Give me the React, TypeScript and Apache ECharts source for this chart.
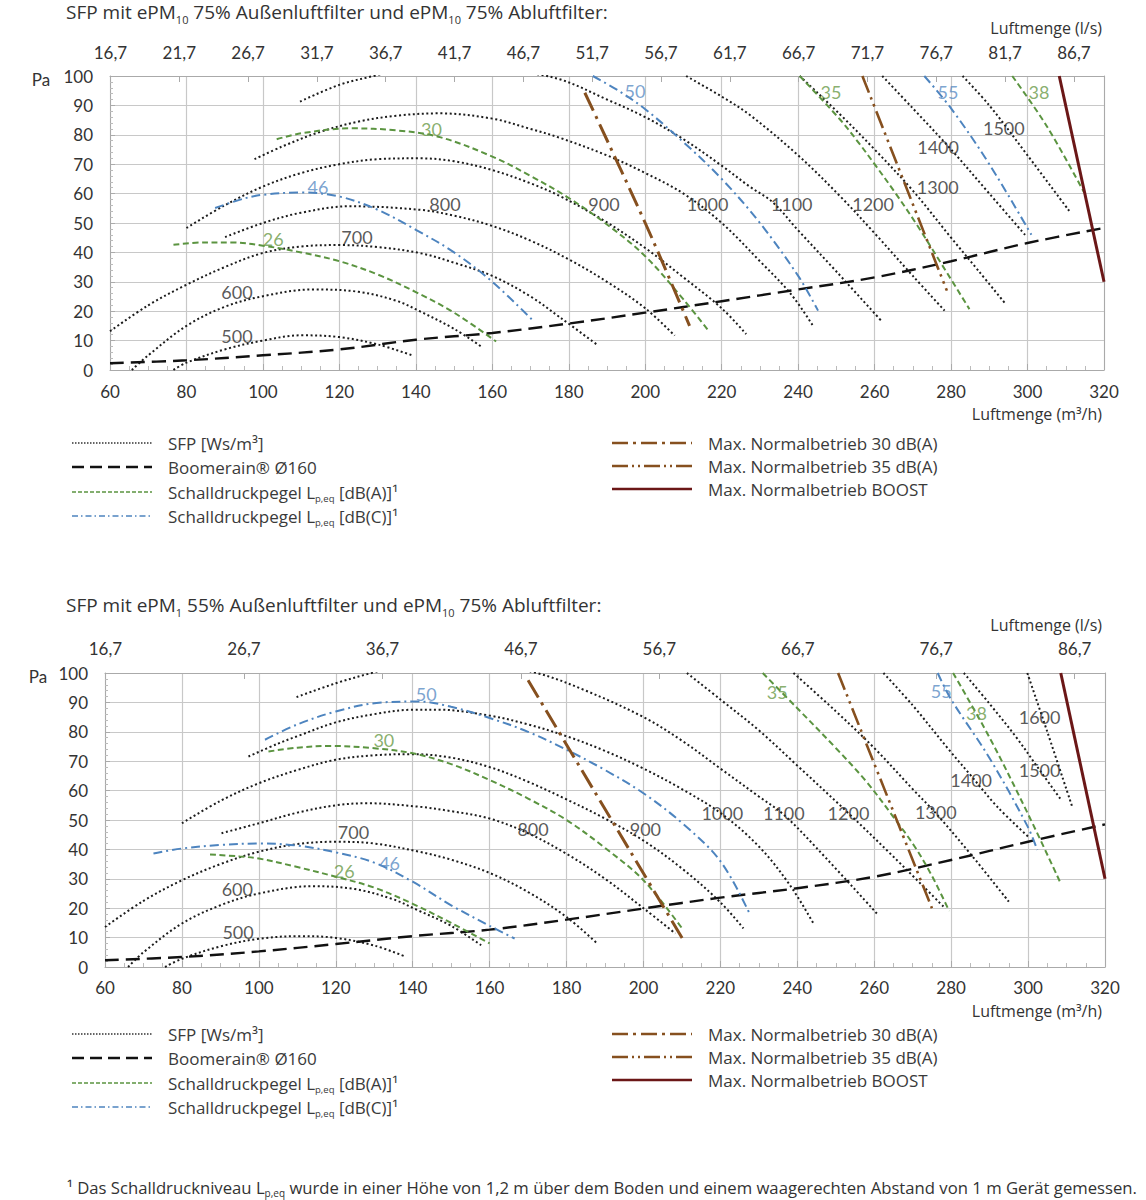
import React, { useEffect, useRef } from "react";
import * as echarts from "echarts";

const FONT = "Lato, 'Open Sans', 'DejaVu Sans', sans-serif";
const FONT2 = "'Open Sans', Lato, 'DejaVu Sans', sans-serif";
const TEXT = "#333333";

// ---------- tick labels (top axis, l/s) ----------
const lsTicks1 = [16.7, 21.7, 26.7, 31.7, 36.7, 41.7, 46.7, 51.7, 56.7, 61.7, 66.7, 71.7, 76.7, 81.7, 86.7];
const lsTicks2 = [16.7, 26.7, 36.7, 46.7, 56.7, 66.7, 76.7, 86.7];

// ---------- chart 1: ePM10 75% / ePM10 75% ----------
const c1Sfp500 = [[76.6, 0], [80, 2.5], [90, 7], [100, 10], [110, 11.8], [120, 11.2], [130, 8.7], [139, 5]];
const c1Sfp600 = [[65.7, 0], [70, 5], [80, 15], [90, 21.5], [100, 25.1], [113, 27.4], [125, 26.6], [135, 23.5], [141, 20], [150, 14], [157.2, 7.9]];
const c1Sfp700 = [[60, 13.2], [70, 22], [80, 29], [90, 35], [100, 39.8], [110, 42], [120, 42.5], [130, 41.8], [141, 39.8], [150, 36.5], [160, 32], [170, 25], [177.6, 18], [187.2, 8.8]];
const c1Sfp800 = [[90.1, 45.2], [100, 50], [110, 53.5], [122.8, 55.7], [141, 54.5], [150, 52.5], [160, 49], [170, 44], [180, 37.6], [190, 30], [200, 21], [207.7, 11.7]];
const c1Sfp900 = [[80, 48.3], [90, 56], [100, 62.4], [110, 67], [120, 70], [130, 71.7], [141, 72], [150, 71], [160, 68], [170, 63.5], [177.6, 59.2], [189, 51], [200, 41.5], [210, 31.5], [220, 21], [226.4, 12.2]];
const c1Sfp1000 = [[97.8, 71.7], [105, 76], [115, 81], [125, 84.5], [135, 86.5], [146, 87.3], [160, 85.5], [170, 82], [177.6, 79], [190, 73], [200, 67], [210, 60], [220, 50], [230, 37], [238, 26], [243.9, 15]];
const c1Sfp1100 = [[109.7, 91.3], [120, 97], [128.9, 100], [140, 103.5], [155, 104], [165, 102], [177.6, 98.9], [190, 92], [200, 86], [210, 78.5], [220, 69.5], [227.3, 62.4], [233.4, 57], [240, 47.5], [250, 33.5], [261.7, 16.8]];
const c1Sfp1200 = [[210.7, 100], [220, 93], [227.3, 86.8], [240, 73], [250.9, 59.2], [260, 46.5], [270, 32], [278.3, 20.2]];
const c1Sfp1300 = [[240.4, 100], [250.9, 87], [260, 75], [270, 61], [280, 45], [287, 34], [294.3, 22.4]];
const c1Sfp1400 = [[262, 100], [270, 89], [280, 75], [290, 60], [299.6, 45.6]];
const c1Sfp1500 = [[283, 100], [290, 90], [300, 73], [310.9, 54.1]];
const c1Sfp = [c1Sfp500, c1Sfp600, c1Sfp700, c1Sfp800, c1Sfp900, c1Sfp1000, c1Sfp1100, c1Sfp1200, c1Sfp1300, c1Sfp1400, c1Sfp1500];

const c1DbA26 = [[76.6, 42.6], [85, 43.4], [92, 43.4], [100, 42.3], [110, 40], [120, 37], [130, 32.5], [140, 26.5], [150, 19.5], [161, 9.7]];
const c1DbA30 = [[103.6, 78.5], [110, 80.5], [122.8, 82.2], [135, 81.5], [146.3, 79.2], [160, 72.6], [170, 66], [179.4, 59], [190, 49.5], [200, 38.7], [210, 24], [216.4, 13.6]];
const c1DbA35 = [[240.4, 100], [250.9, 85.3], [256, 77], [260, 70], [265, 61], [271, 49.5], [278, 35], [284.8, 20.7]];
const c1DbA38 = [[296, 100], [305, 83], [314.8, 60.4]];
const c1DbA = [c1DbA26, c1DbA30, c1DbA35, c1DbA38];

const c1DbC46 = [[87.5, 55.1], [95, 58.3], [100, 59.6], [110, 60.4], [120, 59], [130, 54.5], [140, 47.7], [150, 40], [160, 30], [170.5, 17]];
const c1DbC50 = [[186.3, 100], [193, 95], [200, 88.7], [210, 77.5], [220, 65], [230, 50], [240, 32], [245.2, 20.2]];
const c1DbC55 = [[273, 100], [280, 89], [290, 70], [301, 46]];
const c1DbC = [c1DbC46, c1DbC50, c1DbC55];

const c1Max30 = [[184.2, 94.3], [200, 50], [211.6, 15]];
const c1Max35 = [[256.8, 100], [278.9, 27]];
const c1Boost = [[308.3, 100], [320, 30]];
const c1Boomerain = [[60, 2.3], [80, 3.3], [100, 5], [120, 7], [140, 10.3], [160, 12.6], [180, 15.8], [200, 19.5], [220, 23.4], [240, 27.4], [260, 31.5], [280, 37], [300, 43.2], [320, 48.3]];

const c1SfpLabels = [[93.2, 11.7, "500"], [93.2, 26.4, "600"], [124.6, 45.1, "700"], [147.6, 56.6, "800"], [189.2, 56.6, "900"], [216.3, 56.6, "1000"], [238.3, 56.6, "1100"], [259.6, 56.6, "1200"], [276.5, 62.3, "1300"], [276.6, 75.8, "1400"], [293.8, 82.2, "1500"]];
const c1DbALabels = [[102.7, 44.5, "26"], [144.1, 82, "30"], [248.6, 94.5, "35"], [303, 94.5, "38"]];
const c1DbCLabels = [[114.4, 62.2, "46"], [197.3, 95, "50"], [279.2, 94.5, "55"]];

// ---------- chart 2: ePM1 55% / ePM10 75% ----------
const c2Sfp500 = [[75.6, 0], [80, 2.8], [90, 7], [100, 9.6], [110.7, 10.5], [120, 9.9], [130, 7.3], [138, 3.6]];
const c2Sfp600 = [[66, 0], [70, 5], [80, 14.8], [90, 21], [100, 25], [114, 27.5], [125, 26.5], [135, 23], [141, 19.5], [150, 14], [157.8, 7.4]];
const c2Sfp700 = [[60, 13.6], [70, 22.5], [80, 29.5], [90, 35], [100, 39.2], [110, 41.8], [120, 42.6], [130, 42], [141.7, 39.2], [150, 36.5], [160, 32], [170, 25.5], [180, 17], [187.8, 8.2]];
const c2Sfp800 = [[90.3, 45.5], [100, 48.9], [110, 52.5], [120, 55], [128, 55.7], [141.7, 54.5], [150, 53], [160, 50.5], [170, 45.5], [180, 38.5], [190, 30], [200, 20], [208.3, 11.4]];
const c2Sfp900 = [[80, 48.9], [90, 56.5], [100, 62.5], [110, 67], [120, 70.5], [130, 72], [140, 72.4], [150, 71.2], [160, 68], [170, 63], [180, 57], [190, 50.5], [200, 43], [210, 33.5], [220, 22], [226, 13.1]];
const c2Sfp1000 = [[97.3, 71.6], [105, 76], [110, 78.5], [120, 83.2], [130, 86], [140, 87.5], [147, 87.5], [160, 85.5], [170, 82.5], [180, 78.5], [190, 73.5], [200, 67.5], [210, 60.5], [220, 52.4], [230, 41], [238, 28], [244.2, 14.8]];
const c2Sfp1100 = [[109.8, 91.8], [120, 96.5], [129.3, 100], [140, 103.5], [155, 104], [172.2, 100], [185, 94], [200, 85], [210, 77], [220, 67.5], [230, 58], [236.3, 52], [245, 40.5], [261.1, 17.6]];
const c2Sfp1200 = [[211.3, 100], [220, 91], [230, 80.5], [240, 68.5], [253.3, 52.3], [265, 37.5], [278.5, 19.9]];
const c2Sfp1300 = [[239, 100], [250, 87], [260, 74.5], [270, 60.5], [276, 52.3], [285, 38.5], [295, 22.2]];
const c2Sfp1400 = [[262.4, 100], [270, 89], [280, 73], [285.2, 65], [292, 54.5], [300.3, 44]];
const c2Sfp1500 = [[283.3, 100], [290, 89.5], [297, 78], [303, 67], [308.5, 57]];
const c2Sfp1600 = [[299.8, 100], [305, 80], [311.6, 54]];
const c2Sfp = [c2Sfp500, c2Sfp600, c2Sfp700, c2Sfp800, c2Sfp900, c2Sfp1000, c2Sfp1100, c2Sfp1200, c2Sfp1300, c2Sfp1400, c2Sfp1500, c2Sfp1600];

const c2DbA26 = [[87.3, 38.3], [95, 37.6], [100, 36.9], [110, 34], [120, 30.7], [130, 27], [140, 21.5], [150, 15], [160, 8]];
const c2DbA30 = [[102.5, 73.3], [110, 74.6], [118.5, 75.2], [130, 74.4], [140, 72.7], [150, 69], [160, 63.6], [170, 57.3], [180, 50], [190, 40.5], [200, 29.5], [210.4, 12.5]];
const c2DbA35 = [[231, 100], [240, 88], [250, 74.5], [258, 63], [265, 51], [270.5, 41], [275, 31], [279.5, 19]];
const c2DbA38 = [[280.5, 100], [290, 78], [300, 52], [308.5, 28.4]];
const c2DbA = [c2DbA26, c2DbA30, c2DbA35, c2DbA38];

const c2DbC46 = [[72.6, 38.6], [80, 40.3], [90, 41.5], [100, 42], [110, 41.3], [120, 39], [130, 35.5], [140, 29], [150, 21], [160, 14], [166.5, 9.7]];
const c2DbC50 = [[101.6, 77.3], [110, 82.5], [120, 86.9], [130.6, 89.8], [141.7, 90.3], [150, 88.5], [160, 84.7], [170, 80], [180, 73.9], [190, 67], [200, 59.1], [210, 49], [220, 36], [227.8, 17.6]];
const c2DbC55 = [[276.5, 100], [280, 91], [290, 71], [299.8, 48], [302.4, 39.8]];
const c2DbC = [c2DbC46, c2DbC50, c2DbC55];

const c2Max30 = [[170, 97.5], [210.3, 9.3]];
const c2Max35 = [[250.6, 100], [275, 20]];
const c2Boost = [[308.5, 100], [320, 30]];
const c2Boomerain = [[60, 2.3], [80, 3.4], [100, 5.3], [120, 7.8], [140, 10.5], [160, 12.7], [180, 16.1], [200, 19.9], [220, 23.6], [240, 26.8], [260, 30.7], [280, 36.4], [300, 42.6], [320, 48.5]];

const c2SfpLabels = [[94.6, 12, "500"], [94.4, 26.6, "600"], [124.6, 45.8, "700"], [171.3, 47.1, "800"], [200.5, 47, "900"], [220.5, 52.4, "1000"], [236.5, 52.4, "1100"], [253.3, 52.4, "1200"], [276, 52.6, "1300"], [285.2, 63.6, "1400"], [303, 67, "1500"], [303, 85, "1600"]];
const c2DbALabels = [[122.2, 32.8, "26"], [132.5, 77.2, "30"], [234.8, 93.5, "35"], [286.6, 86.4, "38"]];
const c2DbCLabels = [[134, 35.5, "46"], [143.5, 92.8, "50"], [277.4, 93.8, "55"]];

// ---------- styles ----------
const GREEN = "#5b9440";
const BLUE = "#4d84bf";
const BROWN = "#86501f";
const SFP_STYLE = { color: "#1c1c1c", width: 2, type: [2, 2.6], cap: "butt" };
const BOOM_STYLE = { color: "#111111", width: 2.4, type: [14, 7] };
const DBA_STYLE = { color: GREEN, width: 2, type: [6, 3.5] };
const DBC_STYLE = { color: BLUE, width: 2, type: [9, 4, 2, 4] };
const MAX30_STYLE = { color: BROWN, width: 3, type: [20, 6, 3, 6] };
const MAX35_STYLE = { color: BROWN, width: 2.6, type: [18, 5, 2.5, 5, 2.5, 5] };
const BOOST_STYLE = { color: "#6b1717", width: 3, type: "solid" };

const GRIDS = [
  { left: 110, top: 76, width: 994, height: 294 },
  { left: 105, top: 673, width: 1000, height: 294 },
];

function lsFormat(v: number) {
  return (v / 3.6).toFixed(1).replace(".", ",");
}

function axesFor(gi: number, lsTicks: number[], bottomMargin: number, topMargin: number) {
  const custom = lsTicks.map((v) => v * 3.6);
  const bottom = {
    gridIndex: gi, type: "value", min: 60, max: 320, interval: 20, position: "bottom",
    axisLine: { show: true, onZero: false, lineStyle: { color: "#aaaaaa", width: 1 } },
    axisTick: { show: true, inside: true, length: 6, lineStyle: { color: "#aaaaaa" } },
    minorTick: { show: true, splitNumber: 4, length: 4, lineStyle: { color: "#bbbbbb" } },
    axisLabel: { fontSize: 17, color: TEXT, margin: bottomMargin, fontFamily: FONT },
    splitLine: { show: true, lineStyle: { color: "#c8c8c8", width: 1.2 } },
  };
  const top = {
    gridIndex: gi, type: "value", min: 60, max: 320, position: "top",
    axisLine: { show: true, onZero: false, lineStyle: { color: "#aaaaaa", width: 1 } },
    axisTick: { show: true, inside: true, length: 6, customValues: custom, lineStyle: { color: "#aaaaaa" } },
    axisLabel: { customValues: custom, formatter: lsFormat, fontSize: 17, color: TEXT, margin: topMargin, fontFamily: FONT },
    splitLine: { show: false },
  };
  const left = {
    gridIndex: gi, type: "value", min: 0, max: 100, interval: 10, position: "left",
    axisLine: { show: true, onZero: false, lineStyle: { color: "#aaaaaa", width: 1 } },
    axisTick: { show: true, inside: true, length: 5, lineStyle: { color: "#aaaaaa" } },
    minorTick: { show: true, splitNumber: 5, length: 3, lineStyle: { color: "#bbbbbb" } },
    axisLabel: { fontSize: 17, color: TEXT, margin: 17, fontFamily: FONT },
    splitLine: { show: true, lineStyle: { color: "#c8c8c8", width: 1.2 } },
  };
  const right = {
    gridIndex: gi, type: "value", min: 0, max: 100, position: "right",
    axisLine: { show: true, onZero: false, lineStyle: { color: "#aaaaaa", width: 1 } },
    axisTick: { show: false }, axisLabel: { show: false }, splitLine: { show: false },
  };
  return { x: [bottom, top], y: [left, right] };
}

function curve(data: number[][], gi: number, style: any, z = 3) {
  return {
    type: "line", xAxisIndex: gi * 2, yAxisIndex: gi * 2, data,
    symbol: "none", showSymbol: false, smooth: 0.35, silent: true, clip: true,
    lineStyle: style, z, emphasis: { disabled: true },
  };
}

function labels(data: any[], gi: number, color: string) {
  return {
    type: "scatter", xAxisIndex: gi * 2, yAxisIndex: gi * 2, data,
    symbolSize: 1, itemStyle: { color: "rgba(0,0,0,0)" }, silent: true, z: 10,
    label: {
      show: true, position: "inside", formatter: (p: any) => p.data[2],
      color, fontSize: 18, fontFamily: FONT,
    },
    emphasis: { disabled: true },
  };
}

function chartSeries(gi: number, sfp: number[][][], dbA: number[][][], dbC: number[][][],
  max30: number[][], max35: number[][], boost: number[][], boom: number[][],
  sfpL: any[], dbAL: any[], dbCL: any[]) {
  const s: any[] = [];
  sfp.forEach((d) => s.push(curve(d, gi, SFP_STYLE, 3)));
  s.push(curve(boom, gi, BOOM_STYLE, 4));
  dbA.forEach((d) => s.push(curve(d, gi, DBA_STYLE, 5)));
  dbC.forEach((d) => s.push(curve(d, gi, DBC_STYLE, 5)));
  s.push(curve(max30, gi, MAX30_STYLE, 6));
  s.push(curve(max35, gi, MAX35_STYLE, 6));
  s.push(curve(boost, gi, BOOST_STYLE, 6));
  s.push(labels(sfpL, gi, "#2e2e2e"));
  s.push(labels(dbAL, gi, "#6a9a48"));
  s.push(labels(dbCL, gi, "#5a8cc4"));
  return s;
}

const LEG_TXT = "#3a3a3a";
const LEG_SIZE = 17;
const richLegend = {
  n: { fontSize: LEG_SIZE, fontFamily: FONT2, fill: LEG_TXT },
  s: { fontSize: 9.5, fontFamily: FONT2, fill: LEG_TXT, padding: [13, 0, 0, 0] },
};

function legendElems(dy: number) {
  const L = [443, 467, 492, 516].map((v) => v + dy);
  const R = [443, 466, 489].map((v) => v + dy);
  const line = (x1: number, x2: number, y: number, stroke: string, lw: number, dash: number[] | null) => ({
    type: "line", silent: true,
    shape: { x1, y1: y, x2, y2: y },
    style: { stroke, lineWidth: lw, lineDash: dash || undefined },
  });
  const txt = (x: number, y: number, text: string) => ({
    type: "text", x, y, silent: true,
    style: { text, rich: richLegend, fill: LEG_TXT, fontSize: LEG_SIZE, fontFamily: FONT2, align: "left", verticalAlign: "middle" },
  });
  return [
    line(72, 152, L[0], "#333333", 1.5, [1.5, 1.5]),
    txt(168, L[0], "{n|SFP [Ws/m³]}"),
    line(72, 152, L[1], "#111111", 2.5, [12, 6]),
    txt(168, L[1], "{n|Boomerain® Ø160}"),
    line(72, 152, L[2], GREEN, 1.5, [4, 2]),
    txt(168, L[2], "{n|Schalldruckpegel L}{s|p,eq}{n| [dB(A)]¹}"),
    line(72, 152, L[3], BLUE, 1.5, [6, 3, 1.5, 3]),
    txt(168, L[3], "{n|Schalldruckpegel L}{s|p,eq}{n| [dB(C)]¹}"),
    line(612, 692, R[0], BROWN, 2.5, [16, 5, 3, 5]),
    txt(708, R[0], "{n|Max. Normalbetrieb 30 dB(A)}"),
    line(612, 692, R[1], BROWN, 2.5, [16, 4, 2, 4, 2, 4]),
    txt(708, R[1], "{n|Max. Normalbetrieb 35 dB(A)}"),
    line(612, 692, R[2], "#6b1717", 2.5, null),
    txt(708, R[2], "{n|Max. Normalbetrieb BOOST}"),
  ];
}

const richTitle = {
  n: { fontSize: 19, fontFamily: FONT2, fill: TEXT },
  s: { fontSize: 11, fontFamily: FONT2, fill: TEXT, padding: [14, 0, 0, 0] },
};

function simpleText(x: number, y: number, text: string, align: string, size = 16, family = FONT2) {
  return {
    type: "text", x, y, silent: true,
    style: { text, fill: TEXT, fontSize: size, fontFamily: family, align, verticalAlign: "middle" },
  };
}

function buildOption() {
  const a1 = axesFor(0, lsTicks1, 13, 15);
  const a2 = axesFor(1, lsTicks2, 12, 16);
  const graphic: any[] = [
    {
      type: "text", x: 66, y: 12, silent: true,
      style: { text: "{n|SFP mit ePM}{s|10}{n| 75% Außenluftfilter und ePM}{s|10}{n| 75% Abluftfilter:}", rich: richTitle, fontSize: 19, fontFamily: FONT2, fill: TEXT, align: "left", verticalAlign: "middle" },
    },
    {
      type: "text", x: 66, y: 605, silent: true,
      style: { text: "{n|SFP mit ePM}{s|1}{n| 55% Außenluftfilter und ePM}{s|10}{n| 75% Abluftfilter:}", rich: richTitle, fontSize: 19, fontFamily: FONT2, fill: TEXT, align: "left", verticalAlign: "middle" },
    },
    simpleText(1102, 28, "Luftmenge (l/s)", "right"),
    simpleText(1102, 414, "Luftmenge (m³/h)", "right"),
    simpleText(1102, 625, "Luftmenge (l/s)", "right"),
    simpleText(1102, 1011, "Luftmenge (m³/h)", "right"),
    simpleText(41, 79, "Pa", "center", 17, FONT),
    simpleText(38, 676, "Pa", "center", 17, FONT),
    ...legendElems(0),
    ...legendElems(591),
    {
      type: "text", x: 67, y: 1187, silent: true,
      style: {
        text: "{n|¹ Das Schalldruckniveau L}{s|p,eq}{n| wurde in einer Höhe von 1,2 m über dem Boden und einem waagerechten Abstand von 1 m Gerät gemessen.}",
        rich: {
          n: { fontSize: 16.7, fontFamily: FONT2, fill: TEXT },
          s: { fontSize: 10, fontFamily: FONT2, fill: TEXT, padding: [12, 0, 0, 0] },
        },
        fontSize: 16.7, fontFamily: FONT2, fill: TEXT, align: "left", verticalAlign: "middle",
      },
    },
  ];
  return {
    animation: false,
    backgroundColor: "#ffffff",
    textStyle: { fontFamily: FONT },
    grid: GRIDS,
    xAxis: [...a1.x, ...a2.x],
    yAxis: [...a1.y, ...a2.y],
    series: [
      ...chartSeries(0, c1Sfp, c1DbA, c1DbC, c1Max30, c1Max35, c1Boost, c1Boomerain, c1SfpLabels, c1DbALabels, c1DbCLabels),
      ...chartSeries(1, c2Sfp, c2DbA, c2DbC, c2Max30, c2Max35, c2Boost, c2Boomerain, c2SfpLabels, c2DbALabels, c2DbCLabels),
    ],
    graphic,
  };
}

export default function App() {
  const ref = useRef<HTMLDivElement>(null);
  useEffect(() => {
    if (!ref.current) return;
    const chart = echarts.init(ref.current, null, { renderer: "svg" });
    chart.setOption(buildOption() as any);
    return () => chart.dispose();
  }, []);
  return (
    <div
      ref={ref}
      style={{ position: "absolute", left: 0, top: 0, width: 1146, height: 1200, background: "#ffffff" }}
    />
  );
}
